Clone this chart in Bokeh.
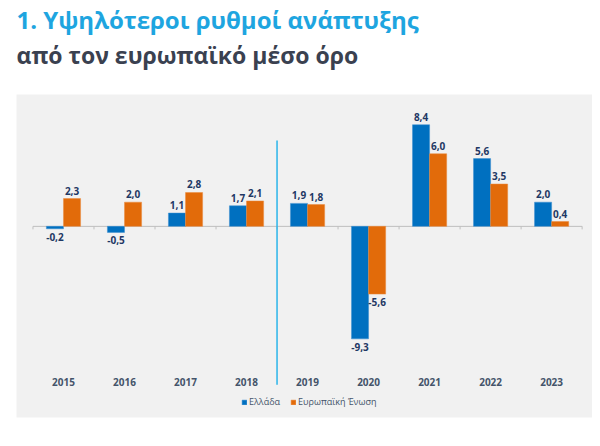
from bokeh.plotting import figure
from bokeh.models import Range1d, ColumnDataSource, Title, Legend, LegendItem
from bokeh.core.properties import value
from bokeh.embed import file_html
from bokeh.resources import INLINE

years = ["2015", "2016", "2017", "2018", "2019", "2020", "2021", "2022", "2023"]
greece = [-0.2, -0.5, 1.1, 1.7, 1.9, -9.3, 8.4, 5.6, 2.0]
eu = [2.3, 2.0, 2.8, 2.1, 1.8, -5.6, 6.0, 3.5, 0.4]
series_names = ["Ελλάδα", "Ευρωπαϊκή Ένωση"]
title_line1 = "1. Υψηλότεροι ρυθμοί ανάπτυξης"
title_line2 = "από τον ευρωπαϊκό μέσο όρο"
divider_before = "2019"

BLUE = "#0070c0"
ORANGE = "#e26b0a"
NAVY = "#1f3864"
FONT = "Open Sans"

n = len(years)
idx = list(range(n))
bw = 0.28

def fmt(v):
    return f"{v:.1f}".replace(".", ",")

p = figure(width=592, height=438, output_backend="svg", toolbar_location=None,
           x_range=Range1d(-0.77, 8.67), y_range=Range1d(-15.8, 10.9),
           min_border_left=16, min_border_right=0, min_border_bottom=21, min_border_top=0,
           background_fill_color="#f1f1f1", border_fill_color="white",
           outline_line_color=None, title=None)
p.xaxis.visible = False
p.yaxis.visible = False
p.xgrid.visible = False
p.ygrid.visible = False

src = ColumnDataSource(dict(
    x=idx, gr=greece, eu=eu,
    xg=[i - bw / 2 for i in idx], xe=[i + bw / 2 for i in idx],
    lg=[fmt(v) for v in greece], le=[fmt(v) for v in eu],
))

# zero line with category ticks
p.segment(x0=[-0.5], y0=[0], x1=[n - 0.5], y1=[0], line_color="#bfbfbf", line_width=1)
p.segment(x0=[i - 0.5 for i in range(n + 1)], y0=[0] * (n + 1),
          x1=[i - 0.5 for i in range(n + 1)], y1=[-0.25] * (n + 1),
          line_color="#bfbfbf", line_width=1)

rg = p.vbar(x="xg", top="gr", bottom=0, width=bw, source=src,
            fill_color=BLUE, line_color="#3d8fd0", line_width=0.5)
re = p.vbar(x="xe", top="eu", bottom=0, width=bw, source=src,
            fill_color=ORANGE, line_color="#eb8a3e", line_width=0.5)

# divider between 2018 and 2019
dx = years.index(divider_before) - 0.5
p.segment(x0=[dx], y0=[7.1], x1=[dx], y1=[-13.1], line_color="#2bb5ea", line_width=1.5)

# value labels
for xs, vals, labs in (("xg", greece, "lg"), ("xe", eu, "le")):
    pos = [i for i, v in enumerate(vals) if v >= 0]
    neg = [i for i, v in enumerate(vals) if v < 0]
    for sel, base, off in ((pos, "bottom", -4), (neg, "top", 4)):
        if not sel:
            continue
        s = ColumnDataSource(dict(
            x=[src.data[xs][i] for i in sel],
            y=[vals[i] for i in sel],
            t=[src.data[labs][i] for i in sel],
        ))
        p.text(x="x", y="y", text="t", source=s, text_align="center",
               text_baseline=base, y_offset=off, text_font=value(FONT),
               text_font_size="10px", text_font_style="bold", text_color=NAVY)

# year labels
p.text(x=idx, y=[-12.9] * n, text=years, text_align="center", text_baseline="middle",
       text_font=value(FONT), text_font_size="10px", text_font_style="bold",
       text_color="#44546a")

legend = Legend(items=[LegendItem(label=series_names[0], renderers=[rg]),
                       LegendItem(label=series_names[1], renderers=[re])],
                orientation="horizontal", location=(225, 9),
                background_fill_alpha=0, border_line_color=None,
                glyph_width=6, glyph_height=6, label_standoff=2, spacing=10,
                padding=0, margin=0, label_height=10,
                label_text_font=FONT, label_text_font_size="9px",
                label_text_color="#44546a")
p.add_layout(legend)

spacer = Title(text=" ", text_font=FONT, text_font_size="1px", standoff=19)
t2 = Title(text=title_line2, text_font=FONT, text_font_size="23px",
           text_font_style="bold", text_color="#3a4150", align="left",
           standoff=3, offset=0)
t1 = Title(text=title_line1, text_font=FONT, text_font_size="24px",
           text_font_style="bold", text_color="#1ea5e0", align="left",
           standoff=0, offset=0)
p.add_layout(spacer, "above")
p.add_layout(t2, "above")
p.add_layout(t1, "above")

open("out.html", "w").write(file_html(p, INLINE))
